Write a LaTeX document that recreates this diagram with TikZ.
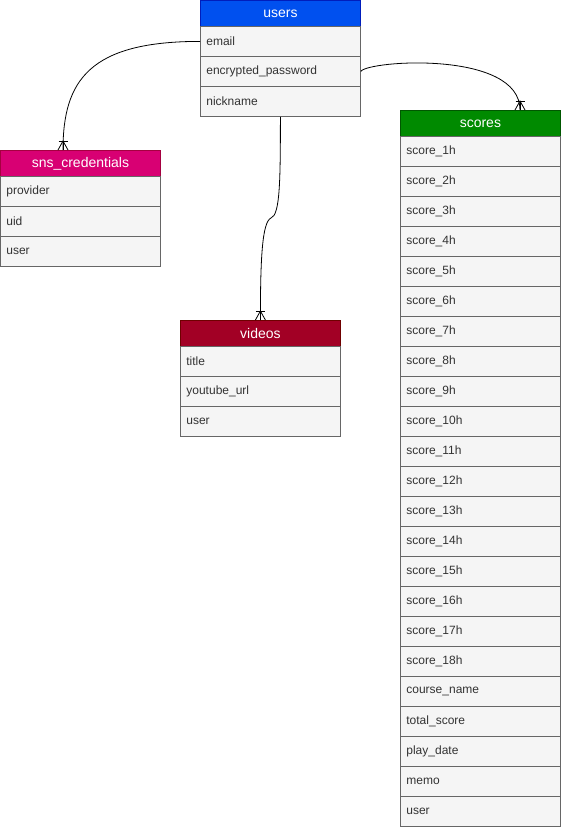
\documentclass[tikz,border=0pt]{standalone}
\usepackage{fontspec}
\setmainfont{Liberation Sans}
\usetikzlibrary{calc}
\definecolor{rowfill}{HTML}{F5F5F5}
\definecolor{rowline}{HTML}{666666}
\definecolor{rowtext}{HTML}{333333}
\definecolor{ublue}{HTML}{0050EF}\definecolor{ubluedk}{HTML}{001DBC}
\definecolor{smag}{HTML}{D80073}\definecolor{smagdk}{HTML}{A50040}
\definecolor{sgreen}{HTML}{008A00}\definecolor{sgreendk}{HTML}{005700}
\definecolor{vred}{HTML}{A20025}\definecolor{vreddk}{HTML}{6F0000}
\tikzset{
  hdr/.style={rectangle, anchor=north west, minimum width=160pt, minimum height=26pt,
    inner sep=0pt, text=white, font=\fontsize{14}{16}\selectfont, line width=0.8pt},
  fieldrow/.style={rectangle, anchor=north west, draw=rowline, fill=rowfill, text=rowtext,
    minimum height=30pt, text width=148pt, inner xsep=6pt, inner ysep=0pt, align=left,
    font=\fontsize{12}{14}\selectfont, line width=0.8pt},
  conn/.style={draw=black, line width=0.8pt},
}
\newcommand\manyend[1]{%
  \draw[conn] ([xshift=-4.5pt,yshift=9pt]#1) -- ([xshift=4.5pt,yshift=9pt]#1);
  \draw[conn] ([xshift=-5pt]#1) -- ([yshift=9pt]#1) -- ([xshift=5pt]#1);
  \draw[conn] ([yshift=9pt]#1) -- (#1);
}
\begin{document}
\begin{tikzpicture}[x=1pt,y=-1pt]
\useasboundingbox (0,0) rectangle (561,830);
% users
\node[hdr, fill=ublue, draw=ubluedk] (users) at (200,0) {users};
\node[fieldrow] (users-email) at (200,26) {email};
\node[fieldrow] (users-pw) at (200,56) {encrypted\_password};
\node[fieldrow] (users-nick) at (200,86) {nickname};
% sns_credentials
\node[hdr, fill=smag, draw=smagdk] (sns) at (0,150) {sns\_credentials};
\node[fieldrow] (sns-provider) at (0,176) {provider};
\node[fieldrow] (sns-uid) at (0,206) {uid};
\node[fieldrow] (sns-user) at (0,236) {user};
% videos
\node[hdr, fill=vred, draw=vreddk] (videos) at (180,320) {videos};
\node[fieldrow] (videos-title) at (180,346) {title};
\node[fieldrow] (videos-url) at (180,376) {youtube\_url};
\node[fieldrow] (videos-user) at (180,406) {user};
% scores
\node[hdr, fill=sgreen, draw=sgreendk] (scores) at (400,110) {scores};
\foreach \i in {1,...,18}{
  \node[fieldrow] (scores-\i) at (400,{136+30*(\i-1)}) {score\_\i h};
}
\node[fieldrow] (scores-course) at (400,676) {course\_name};
\node[fieldrow] (scores-total) at (400,706) {total\_score};
\node[fieldrow] (scores-date) at (400,736) {play\_date};
\node[fieldrow] (scores-memo) at (400,766) {memo};
\node[fieldrow] (scores-user) at (400,796) {user};
% connector end points
\coordinate (snsin) at ($(sns.north west)+(63,0)$);
\coordinate (scoresin) at ($(scores.north west)+(120,0)$);
% connectors
\draw[conn] (users-email.west) .. controls +(-110,0) and +(0,-70) .. (snsin);
\manyend{snsin}
\draw[conn] (users-pw.east) .. controls +(7,-11) and +(0,-60) .. (scoresin);
\manyend{scoresin}
\draw[conn] (users-nick.south) .. controls +(0,64) and +(9,-3) .. (271,218)
  .. controls +(-9,4) and +(0,-60) .. (videos.north);
\manyend{videos.north}
\end{tikzpicture}
\end{document}
